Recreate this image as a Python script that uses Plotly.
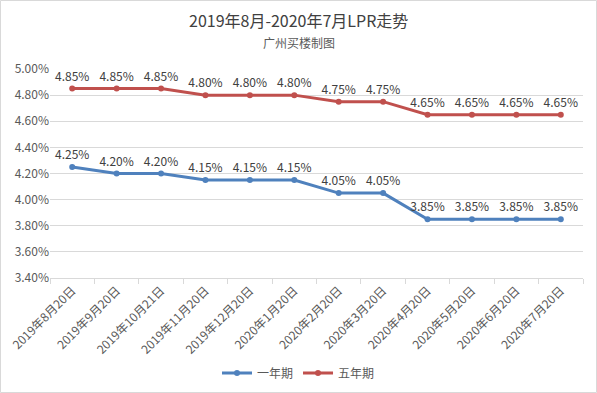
import plotly.graph_objects as go

categories = ["2019年8月20日", "2019年9月20日", "2019年10月21日", "2019年11月20日",
              "2019年12月20日", "2020年1月20日", "2020年2月20日", "2020年3月20日",
              "2020年4月20日", "2020年5月20日", "2020年6月20日", "2020年7月20日"]
one_year = [4.25, 4.20, 4.20, 4.15, 4.15, 4.15, 4.05, 4.05, 3.85, 3.85, 3.85, 3.85]
five_year = [4.85, 4.85, 4.85, 4.80, 4.80, 4.80, 4.75, 4.75, 4.65, 4.65, 4.65, 4.65]
y_ticks = [3.40, 3.60, 3.80, 4.00, 4.20, 4.40, 4.60, 4.80, 5.00]

W, H = 597, 393
L, R, T, B = 50, 14, 69, 115

font = "Noto Sans CJK SC"
fig = go.Figure()
for name, vals, col in [("一年期", one_year, "#4F81BD"), ("五年期", five_year, "#C0504D")]:
    fig.add_trace(go.Scatter(
        x=categories, y=vals, name=name, mode="lines+markers+text",
        text=[f"{v:.2f}%" for v in vals], textposition="top center",
        textfont=dict(size=12, color="#404040", family=font),
        line=dict(color=col, width=3), marker=dict(size=6, color=col),
        cliponaxis=False,
    ))

pw = W - L - R
ph = H - T - B
cx = (W / 2 - L) / pw
fig.add_shape(type="rect", xref="paper", yref="paper",
              x0=(-L + 0.5) / pw, x1=(pw + R - 0.5) / pw,
              y0=(-B + 0.5) / ph, y1=(ph + T - 0.5) / ph,
              line=dict(color="#D9D9D9", width=1), layer="below")

fig.add_annotation(text="2019年8月-2020年7月LPR走势", xref="paper", yref="paper",
                   x=cx, y=(ph + T - 20) / ph, xanchor="center", yanchor="middle",
                   showarrow=False, font=dict(size=16, color="#404040", family=font))
fig.add_annotation(text="广州买楼制图", xref="paper", yref="paper",
                   x=cx, y=(ph + T - 42) / ph, xanchor="center", yanchor="middle",
                   showarrow=False, font=dict(size=12, color="#595959", family=font))

fig.update_layout(
    width=W, height=H, margin=dict(l=L, r=R, t=T, b=B, autoexpand=False),
    paper_bgcolor="white", plot_bgcolor="white",
    font=dict(family=font, color="#595959"),
    showlegend=True,
    legend=dict(orientation="h", x=cx, xanchor="center", y=(-(373 - T - ph)) / ph, yanchor="middle",
                font=dict(size=12, color="#595959")),
    xaxis=dict(type="category", range=[-0.5, 11.5], tickangle=-45, automargin=False,
               tickfont=dict(size=12, color="#595959"),
               showgrid=False, showline=True, linecolor="#D9D9D9",
               ticks="outside", tickson="boundaries", ticklen=5, tickcolor="#D9D9D9"),
    yaxis=dict(range=[3.40, 5.00], tickvals=y_ticks, automargin=False,
               ticktext=[f"{v:.2f}%" for v in y_ticks],
               tickfont=dict(size=12, color="#595959"),
               showgrid=True, gridcolor="#D9D9D9", zeroline=False, showline=False),
)
fig.write_html("out.html", config={"displayModeBar": False},
               post_script="document.body.style.margin='0';document.body.style.overflow='hidden';")
